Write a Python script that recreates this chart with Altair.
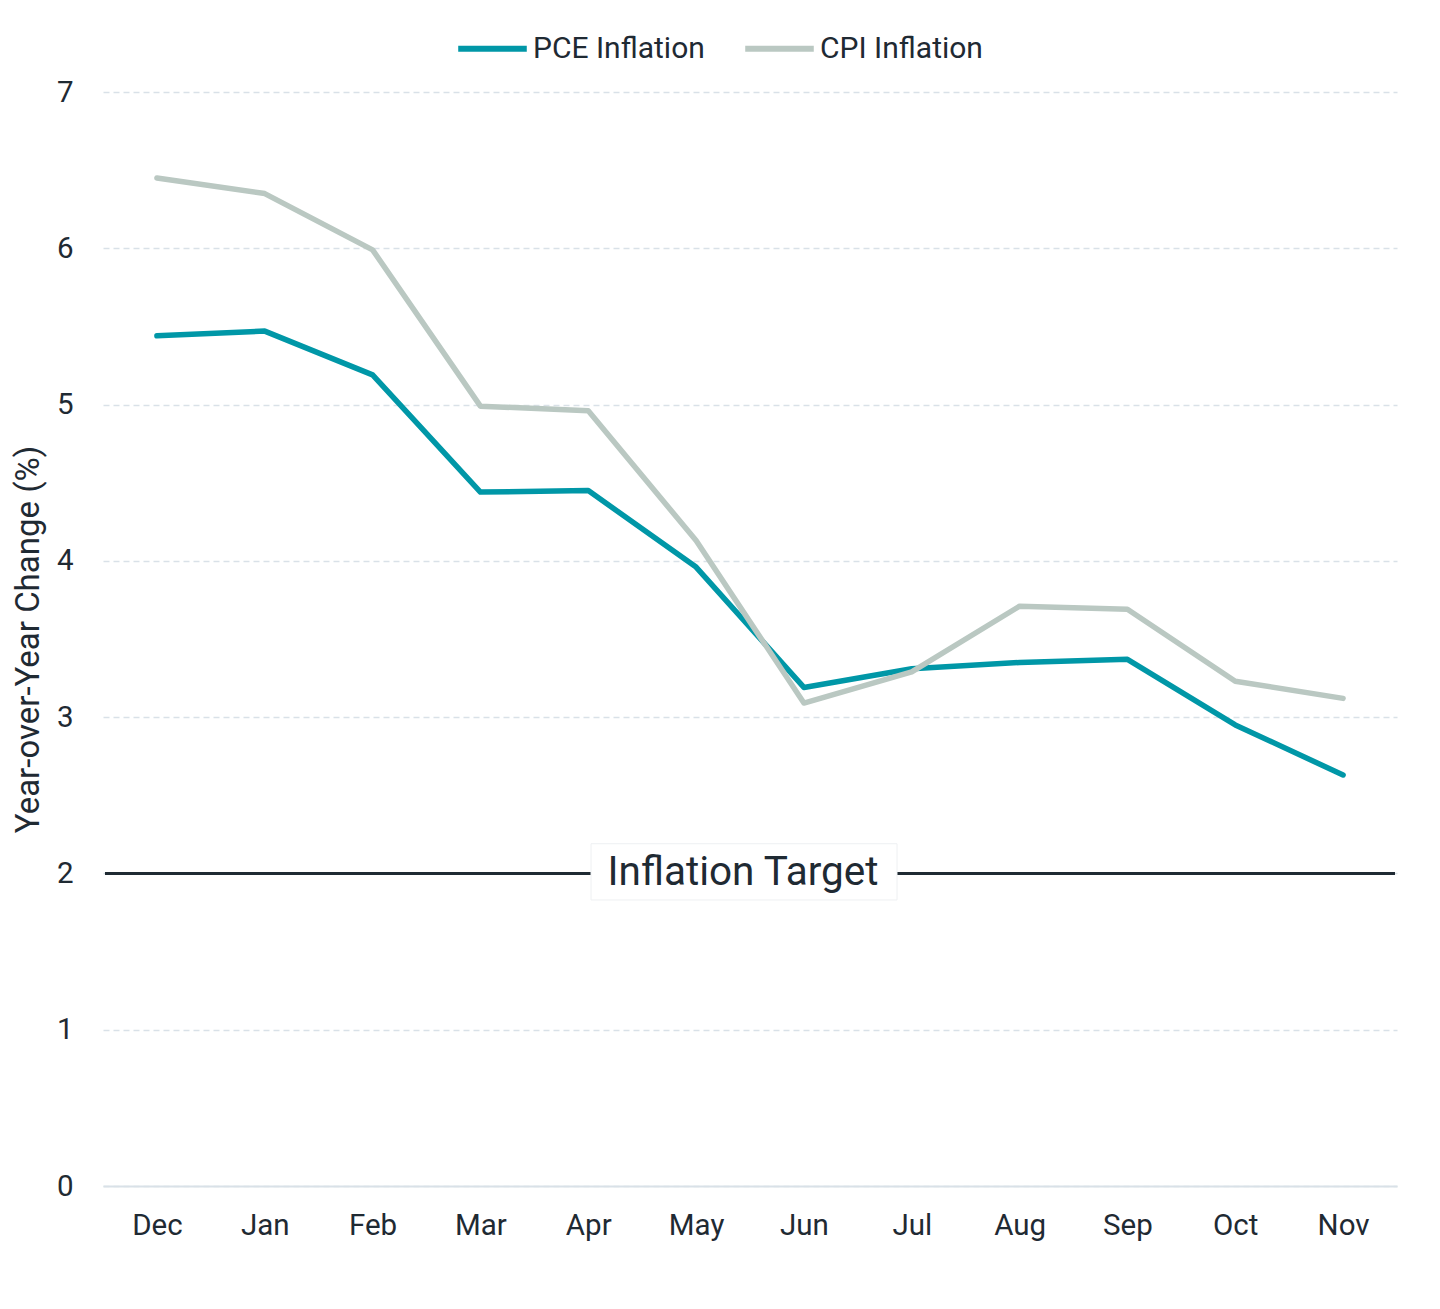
import altair as alt
import pandas as pd

months = ["Dec", "Jan", "Feb", "Mar", "Apr", "May", "Jun", "Jul", "Aug", "Sep", "Oct", "Nov"]
pce = [5.44, 5.47, 5.19, 4.44, 4.45, 3.96, 3.19, 3.31, 3.35, 3.37, 2.95, 2.63]
cpi = [6.45, 6.35, 5.99, 4.99, 4.96, 4.13, 3.09, 3.29, 3.71, 3.69, 3.23, 3.12]
series_names = ["PCE Inflation", "CPI Inflation"]
series_colors = ["#0097A7", "#BAC8C2"]
target = 2.0
target_label = "Inflation Target"
y_ticks = [0, 1, 2, 3, 4, 5, 6, 7]

rows = []
for m, p, c in zip(months, pce, cpi):
    rows.append({"month": m, "series": series_names[0], "value": p})
    rows.append({"month": m, "series": series_names[1], "value": c})
df = pd.DataFrame(rows)

W, H = 1294, 1094
TXT = "#1f2a33"
GRID = "#d9e1e8"
FONT = "Roboto"

x_enc = alt.X("month:N", sort=months, title=None,
              scale=alt.Scale(type="point", padding=0.5),
              axis=alt.Axis(labelAngle=0, labelFontSize=29.5, labelPadding=25, ticks=False,
                            domain=True, domainColor=GRID, domainWidth=2, grid=False,
                            labelColor=TXT, labelFont=FONT))
y_scale = alt.Scale(domain=[0, 7], nice=False, zero=True)

lines = alt.Chart(df).mark_line(strokeWidth=5.5, strokeJoin="round", strokeCap="round").encode(
    x=x_enc,
    y=alt.Y("value:Q", scale=y_scale, title="Year-over-Year Change (%)",
            axis=alt.Axis(values=y_ticks, format="d", grid=True, gridDash=[6, 4], gridColor=GRID,
                          gridWidth=1.5, domain=False, ticks=False, labelFontSize=29.5, labelPadding=30,
                          labelColor=TXT, labelFont=FONT, titleFontSize=33, titleFont=FONT,
                          titleColor=TXT, titleFontWeight="normal", titlePadding=11)),
    color=alt.Color("series:N", scale=alt.Scale(domain=series_names, range=series_colors),
                    sort=series_names, title=None,
                    legend=alt.Legend(orient="none", legendX=352, legendY=-81, direction="horizontal",
                                      symbolType="stroke", symbolSize=4700, symbolStrokeWidth=6,
                                      labelFontSize=30, labelFont=FONT, labelColor=TXT, labelLimit=400,
                                      columnPadding=28, labelOffset=3)),
)

tdf = pd.DataFrame({"y": [target], "ylo": [target - 0.17], "yhi": [target + 0.19], "label": [target_label]})

rule = alt.Chart(tdf).mark_rule(color=TXT, strokeWidth=3).encode(
    y=alt.Y("y:Q", scale=y_scale), x=alt.value(2), x2=alt.value(W - 2))

box = alt.Chart(tdf).mark_rect(fill="white", stroke="#eef0f2", strokeWidth=1).encode(
    y=alt.Y("ylo:Q", scale=y_scale), y2="yhi:Q", x=alt.value(488), x2=alt.value(794))

label = alt.Chart(tdf).mark_text(fontSize=40.5, font=FONT, color=TXT, baseline="middle", align="center").encode(
    y=alt.Y("y:Q", scale=y_scale), x=alt.value(640), text="label:N")

chart = alt.layer(rule, box, label, lines).properties(
    width=W, height=H,
    autosize=alt.AutoSizeParams(type="none"),
    padding={"left": 95, "top": 84, "right": 35, "bottom": 115},
).configure(font=FONT, view=alt.ViewConfig(stroke=None))

chart.save("out.html", embed_options={"renderer": "svg", "actions": False})
